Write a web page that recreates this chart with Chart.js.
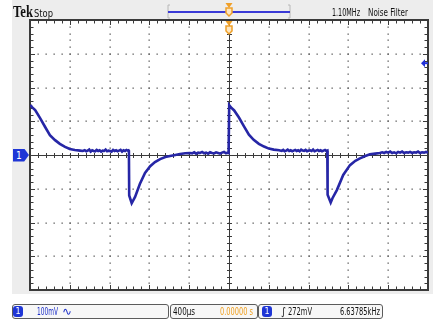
<!DOCTYPE html>
<html>
<head>
<meta charset="utf-8">
<script src="https://cdn.jsdelivr.net/npm/chart.js@4.4.1/dist/chart.umd.min.js"></script>
<style>
  html, body { margin: 0; padding: 0; background: #fff; }
  #wrap { position: relative; width: 433px; height: 320px; overflow: hidden;
          font-family: "DejaVu Sans Condensed", "DejaVu Sans", sans-serif; }
  #scope { position: absolute; left: 0; top: 0; }
  .txt { position: absolute; white-space: nowrap; line-height: 1; font-size: 11px;
         transform-origin: 0 50%; color: #111; }
  .box { position: absolute; top: 304px; height: 13px; border: 1px solid #5c5c5c;
         border-radius: 3px; background: #f7f7f7; }
  .badge { position: absolute; top: 306px; width: 10px; height: 11px; border-radius: 3px;
           background: #1f36d6; color: #fff; font-size: 9px; line-height: 11px; text-align: center; }
  #gnd { position: absolute; left: 13px; width: 16px; height: 13px; background: #1f36d6;
         clip-path: polygon(0 0, 70% 0, 100% 50%, 70% 100%, 0 100%);
         color: #fff; font-size: 10px; line-height: 13px; text-indent: 3px; }
</style>
</head>
<body>
<div id="wrap">
  <canvas id="scope" width="433" height="320"></canvas>

  <div class="txt" data-w="20" style="left:13px;top:12px;font-family:'Liberation Serif',serif;font-weight:bold;font-size:16px;">Tek</div>
  <div class="txt" data-w="19" style="left:34px;top:13px;">Stop</div>
  <div class="txt" data-w="28" style="left:332px;top:12px;">1.10MHz</div>
  <div class="txt" data-w="40" style="left:368px;top:12px;">Noise Filter</div>

  <div id="gnd">1</div>

  <div class="box" style="left:12px;width:155px;"></div>
  <div class="box" style="left:170px;width:86px;"></div>
  <div class="box" style="left:258px;width:123px;"></div>
  <div class="badge" style="left:13px;">1</div>
  <div class="badge" style="left:262px;">1</div>
  <div class="txt" data-w="21" style="left:37px;top:311px;color:#1c2fc8;">100mV</div>
  <div class="txt" data-w="10" style="left:62px;top:311px;color:#1c2fc8;">∿</div>
  <div class="txt" data-w="22" style="left:173px;top:311px;">400µs</div>
  <div class="txt" data-w="33" style="left:220px;top:311px;color:#f0a020;">0.00000 s</div>
  <div class="txt" data-w="5" style="left:281px;top:311px;">∫</div>
  <div class="txt" data-w="24" style="left:288px;top:311px;">272mV</div>
  <div class="txt" data-w="40" style="left:340px;top:311px;">6.63785kHz</div>
</div>

<script>
// horizontal: 400 us/div, trigger at centre; vertical: 100 mV/div
const timeUs = [
  -1996, -1980, -1948, -1900, -1848, -1800, -1748, -1700, -1648, -1600, -1550, -1496,
  -1470, -1450, -1435, -1420, -1405, -1390, -1375, -1360, -1345, -1330, -1315, -1300,
  -1285, -1270, -1255, -1240, -1225, -1210, -1195, -1180, -1165, -1150, -1135, -1120,
  -1105, -1090, -1075, -1060, -1045, -1030, -1018, -1010, -1006,
  -1003, -978, -944, -896, -844, -792, -744, -692, -640, -592, -540, -492, -440, -392,
  -370, -350, -330, -310, -290, -270, -250, -230, -210, -190, -170, -150, -130, -110,
  -90, -70, -50, -30, -15, -4,
  2, 20, 52, 100, 152, 200, 248, 300, 352, 400, 450, 504,
  530, 545, 560, 575, 590, 605, 620, 635, 650, 665, 680, 695, 710, 725, 740, 755,
  770, 785, 800, 815, 830, 845, 860, 875, 890, 905, 920, 935, 950, 965, 978, 988,
  991, 1022, 1040, 1084, 1148, 1216, 1270, 1316, 1370, 1416, 1470, 1516,
  1540, 1560, 1580, 1600, 1620, 1640, 1660, 1680, 1700, 1720, 1740, 1760, 1780,
  1800, 1820, 1840, 1860, 1880, 1900, 1920, 1940, 1960, 1980, 2000
];
const ch1mV = [
  148, 142, 133, 110, 83, 59, 44, 33, 24, 18, 15, 13,
  12, 14, 11, 13, 16, 10, 14, 12, 11, 15, 12, 14,
  10, 13, 12, 16, 11, 13, 12, 10, 15, 12, 14, 11,
  13, 15, 10, 14, 12, 15, 13, 14, 12,
  -120, -143, -124, -86, -53, -33, -21, -12, -6, -3, 0, 3, 5, 6,
  5, 8, 4, 7, 6, 9, 5, 7, 4, 8, 6, 5, 8, 6,
  4, 7, 9, 5, 7, 6,
  148, 141, 132, 111, 84, 60, 45, 33, 25, 19, 16, 14,
  12, 15, 11, 13, 16, 12, 14, 11, 13, 15, 12, 14, 11, 16, 13, 12,
  15, 11, 13, 14, 12, 16, 11, 13, 15, 12, 14, 11, 13, 15, 12, 13,
  -118, -141, -128, -104, -59, -30, -17, -10, -3, 2, 4, 6,
  8, 6, 9, 7, 10, 6, 8, 5, 9, 7, 10, 6, 8,
  7, 9, 6, 8, 7, 10, 6, 8, 7, 9, 7
];
const xDivs = [-2000, -1600, -1200, -800, -400, 0, 400, 800, 1200, 1600, 2000];
const yDivs = [-400, -300, -200, -100, 0, 100, 200, 300, 400];
const triggerLevel = 272;
const groundLevel = 0;

const traceColor = "#2626a6";
const frameColor = "#3a3a3a";
const orange = "#f0a028";

/* =========================
   GRATICULE PLUGIN
========================= */

const graticule = {
  id: "graticule",
  beforeDraw(chart) {
    const ctx = chart.ctx;
    const a = chart.chartArea;
    ctx.save();
    ctx.fillStyle = "#ffffff";
    ctx.fillRect(0, 0, chart.width, chart.height);
    ctx.fillStyle = "#ededed";
    ctx.fillRect(12, 0, chart.width - 12, a.bottom + 4);
    ctx.fillStyle = "#ffffff";
    ctx.fillRect(a.left, a.top, a.right - a.left, a.bottom - a.top);

    // record bar at the top
    const xs = chart.scales.x;
    const cx = xs.getPixelForValue(0);
    ctx.strokeStyle = "#b8b8b8";
    ctx.lineWidth = 1;
    ctx.beginPath();
    ctx.moveTo(170, 5); ctx.lineTo(168, 5); ctx.lineTo(168, 18); ctx.lineTo(170, 18);
    ctx.moveTo(288, 5); ctx.lineTo(290, 5); ctx.lineTo(290, 18); ctx.lineTo(288, 18);
    ctx.stroke();
    ctx.strokeStyle = "#3a3ad6";
    ctx.lineWidth = 2;
    ctx.beginPath();
    ctx.moveTo(168, 12); ctx.lineTo(290, 12);
    ctx.stroke();
    drawTrigMarker(ctx, cx, 3);
    ctx.restore();
  },
  beforeDatasetsDraw(chart) {
    const ctx = chart.ctx;
    const a = chart.chartArea;
    const xs = chart.scales.x;
    const ys = chart.scales.y;
    const stepX = (xs.getPixelForValue(400) - xs.getPixelForValue(0)) / 5;
    const stepY = (ys.getPixelForValue(0) - ys.getPixelForValue(100)) / 5;
    ctx.save();

    // dotted division lines
    ctx.fillStyle = "#5a5a5a";
    xDivs.slice(1, -1).forEach(v => {
      if (v === 0) return;
      const x = Math.round(xs.getPixelForValue(v));
      for (let y = a.top; y <= a.bottom + 0.5; y += stepY) ctx.fillRect(x - 0.5, Math.round(y) - 0.5, 1.3, 1.3);
    });
    yDivs.slice(1, -1).forEach(v => {
      if (v === 0) return;
      const y = Math.round(ys.getPixelForValue(v));
      for (let x = a.left; x <= a.right + 0.5; x += stepX) ctx.fillRect(Math.round(x) - 0.5, y - 0.5, 1.3, 1.3);
    });

    // centre cross with ticks
    const cx = Math.round(xs.getPixelForValue(0)) + 0.5;
    const cy = Math.round(ys.getPixelForValue(0)) + 0.5;
    ctx.strokeStyle = frameColor;
    ctx.lineWidth = 1;
    ctx.beginPath();
    ctx.moveTo(a.left, cy); ctx.lineTo(a.right, cy);
    ctx.moveTo(cx, a.top); ctx.lineTo(cx, a.bottom);
    for (let x = a.left; x <= a.right + 0.5; x += stepX) {
      ctx.moveTo(Math.round(x) + 0.5, cy - 2.5); ctx.lineTo(Math.round(x) + 0.5, cy + 2.5);
    }
    for (let y = a.top; y <= a.bottom + 0.5; y += stepY) {
      ctx.moveTo(cx - 2.5, Math.round(y) + 0.5); ctx.lineTo(cx + 2.5, Math.round(y) + 0.5);
    }
    ctx.stroke();

    // frame with inward ticks
    ctx.lineWidth = 2;
    ctx.strokeRect(a.left, a.top, a.right - a.left, a.bottom - a.top);
    ctx.lineWidth = 1;
    ctx.beginPath();
    let i = 0;
    for (let x = a.left; x <= a.right + 0.5; x += stepX, i++) {
      const len = i % 5 === 0 ? 5 : 3.5;
      const px = Math.round(x) + 0.5;
      ctx.moveTo(px, a.top); ctx.lineTo(px, a.top + len);
      ctx.moveTo(px, a.bottom); ctx.lineTo(px, a.bottom - len);
    }
    i = 0;
    for (let y = a.top; y <= a.bottom + 0.5; y += stepY, i++) {
      const len = i % 5 === 0 ? 5 : 3.5;
      const py = Math.round(y) + 0.5;
      ctx.moveTo(a.left, py); ctx.lineTo(a.left + len, py);
      ctx.moveTo(a.right, py); ctx.lineTo(a.right - len, py);
    }
    ctx.stroke();
    ctx.restore();
  },
  afterDatasetsDraw(chart) {
    const ctx = chart.ctx;
    const a = chart.chartArea;
    const xs = chart.scales.x;
    const ys = chart.scales.y;
    ctx.save();
    // trigger position marker on the frame
    drawTrigMarker(ctx, xs.getPixelForValue(0), a.top + 1);
    // trigger level arrow on the right edge
    const ty = ys.getPixelForValue(triggerLevel);
    ctx.fillStyle = "#2030d8";
    ctx.beginPath();
    ctx.moveTo(a.right - 7, ty);
    ctx.lineTo(a.right - 3, ty - 4);
    ctx.lineTo(a.right - 3, ty + 4);
    ctx.closePath();
    ctx.fill();
    ctx.fillRect(a.right - 4, ty - 1, 4, 2);
    ctx.restore();
  }
};

function drawTrigMarker(ctx, x, y) {
  ctx.fillStyle = orange;
  ctx.beginPath();
  ctx.moveTo(x - 3.5, y); ctx.lineTo(x + 3.5, y); ctx.lineTo(x, y + 5);
  ctx.closePath();
  ctx.fill();
  ctx.strokeStyle = orange;
  ctx.lineWidth = 1.5;
  ctx.fillStyle = "#fde6c0";
  ctx.beginPath();
  ctx.moveTo(x - 3, y + 5);
  ctx.lineTo(x + 3, y + 5);
  ctx.lineTo(x + 3, y + 10);
  ctx.lineTo(x, y + 13);
  ctx.lineTo(x - 3, y + 10);
  ctx.closePath();
  ctx.fill();
  ctx.stroke();
}

/* =========================
   CHART
========================= */

const ctx = document.getElementById("scope").getContext("2d");

const scopeChart = new Chart(ctx, {
  type: "line",
  data: {
    datasets: [{
      data: timeUs.map((t, i) => ({ x: t, y: ch1mV[i] })),
      borderColor: traceColor,
      borderWidth: 2.6,
      pointRadius: 0,
      tension: 0,
      fill: false
    }]
  },
  options: {
    responsive: false,
    animation: false,
    layout: { padding: { left: 30, top: 20, right: 5, bottom: 30 } },
    plugins: { legend: { display: false }, tooltip: { enabled: false } },
    scales: {
      x: { type: "linear", min: xDivs[0], max: xDivs[xDivs.length - 1], display: false },
      y: { type: "linear", min: yDivs[0], max: yDivs[yDivs.length - 1], display: false }
    }
  },
  plugins: [graticule]
});

// ground marker follows the channel offset
const gnd = document.getElementById("gnd");
gnd.style.top = (scopeChart.scales.y.getPixelForValue(groundLevel) - 6.5) + "px";

// squeeze the readouts to the scope's narrow font widths
document.querySelectorAll(".txt").forEach(el => {
  const w = +el.dataset.w;
  const actual = el.getBoundingClientRect().width;
  el.style.transform = "translateY(-50%) scaleX(" + (w / actual).toFixed(3) + ")";
});
</script>
</body>
</html>
